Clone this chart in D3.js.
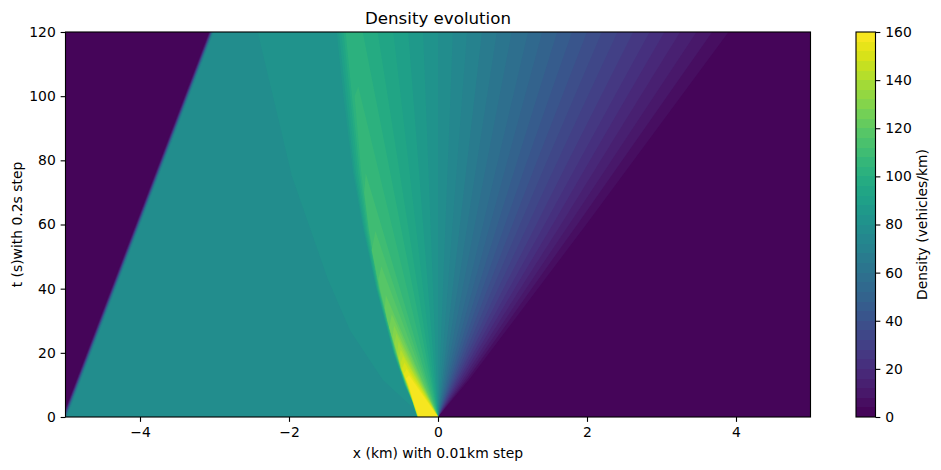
<!DOCTYPE html>
<html><head><meta charset="utf-8">
<script src="https://cdn.jsdelivr.net/npm/d3@7"></script>
<style>
html,body{margin:0;padding:0;background:#fff}
svg{display:block}
text{font-family:"DejaVu Sans",sans-serif;fill:#000}
</style></head><body><svg id="c" width="941" height="470"></svg>
<script>
// ---- data: density in vehicles/km, x in km, t in s ----
const xTicks = [-4, -2, 0, 2, 4];
const tTicks = [0, 20, 40, 60, 80, 100, 120];
const densityTicks = [0, 20, 40, 60, 80, 100, 120, 140, 160];
const densityLevels = [0,4,8,12,16,20,24,28,32,36,40,44,48,52,56,60,64,68,72,76,80,84,88,92,96,100,104,108,112,116,120,124,128,132,136,140,144,148,152,156,160];

// levels 4..76: left edge is the upstream shock front (t = 0 and t = 120)
const frontLevels  = [4,8,12,16,20,24,28,32,36,40,44,48,52,56,60,64,68,72,76];
const frontAtStart = [-5.045,-5.038,-5.033,-5.029,-5.026,-5.023,-5.02,-5.018,-5.015,-5.012,-5.01,-5.008,-5.005,-5.002,-4.999,-4.996,-4.992,-4.987,-4.98];
const frontAtEnd   = [-3.075,-3.068,-3.063,-3.059,-3.056,-3.053,-3.05,-3.048,-3.045,-3.042,-3.04,-3.038,-3.035,-3.032,-3.029,-3.026,-3.022,-3.017,-3.01];

// level 80: faint edge crossing the plateau
const plateauEdge = [[0,-0.28],[3,-0.34],[11.5,-0.74],[27,-1.18],[43,-1.48],[75,-1.96],[120,-2.42]];

// right edges of the fan, levels 4..100, at t = 12, 60, 120
const fanLevels  = [4,8,12,16,20,24,28,32,36,40,44,48,52,56,60,64,68,72,76,80,84,88,92,96,100];
const fanAt12  = [0.43,0.40,0.37,0.34,0.31,0.285,0.26,0.24,0.22,0.20,0.18,0.16,0.14,0.12,0.10,0.08,0.06,0.04,0.02,0,-0.02,-0.04,-0.06,-0.08,-0.10];
const fanAt60  = [1.99,1.87,1.76,1.65,1.54,1.43,1.32,1.21,1.10,1.00,0.90,0.80,0.70,0.605,0.495,0.395,0.295,0.195,0.10,0,-0.10,-0.20,-0.30,-0.405,-0.505];
const fanAt120 = [3.90,3.68,3.47,3.25,3.04,2.84,2.62,2.41,2.20,2.00,1.80,1.60,1.40,1.21,0.99,0.79,0.59,0.39,0.20,0,-0.20,-0.40,-0.60,-0.81,-1.01];

// left edges of the high-density ridge, [t, x] per level; the last point of a capped level is its tip
const ridgeLevels = [84,88,92,96,100,104,108,112,116,120,124,128,132,136,140,144,148,152,156];
const ridgeEdges = [
 [[0,-.28],[5,-.35],[10,-.45],[20,-.60],[40,-.83],[58,-1.00],[76,-1.14],[100,-1.27],[120,-1.36]],
 [[0,-.28],[5,-.35],[10,-.447],[20,-.596],[40,-.824],[58,-.987],[76,-1.12],[100,-1.24],[120,-1.33]],
 [[0,-.279],[5,-.348],[10,-.444],[20,-.591],[40,-.817],[58,-.975],[76,-1.10],[100,-1.21],[120,-1.30]],
 [[0,-.277],[5,-.347],[10,-.441],[20,-.587],[40,-.811],[58,-.96],[76,-1.075],[100,-1.18],[120,-1.27]],
 [[0,-.276],[5,-.346],[10,-.438],[20,-.583],[40,-.804],[58,-.945],[76,-1.05],[100,-1.155],[120,-1.24]],
 [[0,-.275],[5,-.345],[10,-.435],[20,-.578],[40,-.797],[58,-.93],[76,-1.03],[100,-1.12],[103,-1.07]],
 [[0,-.274],[5,-.344],[10,-.432],[20,-.574],[40,-.79],[58,-.925],[70,-.99],[76,-.97]],
 [[0,-.273],[5,-.343],[10,-.429],[20,-.57],[40,-.785],[52,-.89],[58,-.84]],
 [[0,-.272],[5,-.342],[10,-.426],[20,-.565],[40,-.78],[43,-.80],[47,-.76]],
 [[0,-.272],[5,-.342],[10,-.423],[15,-.50],[20,-.56],[30,-.68],[34,-.715],[38,-.70]],
 [[0,-.271],[5,-.341],[10,-.42],[15,-.497],[20,-.556],[28,-.655],[32,-.62]],
 [[0,-.27],[5,-.34],[10,-.417],[15,-.495],[20,-.553],[25,-.61],[28.5,-.59]],
 [[0,-.269],[5,-.339],[10,-.414],[15,-.494],[20,-.55],[23,-.585],[26,-.56]],
 [[0,-.268],[5,-.338],[10,-.411],[15,-.493],[20,-.547],[23.5,-.53]],
 [[0,-.267],[5,-.337],[10,-.408],[15,-.49],[18.5,-.525],[21,-.50]],
 [[0,-.266],[5,-.336],[10,-.41],[15,-.487],[17,-.50],[19,-.47]],
 [[0,-.265],[5,-.335],[10,-.405],[15,-.485],[17,-.45]],
 [[0,-.264],[5,-.334],[10,-.40],[13.5,-.46],[15,-.42]],
 [[0,-.262],[5,-.332],[10,-.395],[12,-.43],[13,-.39]]
];
const capLevel = 100; // levels above this close at their tip

// ---- drawing ----
const svg = d3.select("#c");
const x = d3.scaleLinear().domain([-5, 5]).range([65.5, 810.5]);
const t = d3.scaleLinear().domain([0, 120]).range([417, 32]);
const cbY = d3.scaleLinear().domain([0, 160]).range([417, 32]);
const color = v => d3.interpolateViridis(v / 160);
const bandColor = L => color(L + 2);

svg.append("clipPath").attr("id", "plot").append("rect")
  .attr("x", x(-5)).attr("y", t(120)).attr("width", x(5) - x(-5)).attr("height", t(0) - t(120));
const plot = svg.append("g").attr("clip-path", "url(#plot)");
plot.append("rect").attr("x", x(-5)).attr("y", t(120)).attr("width", x(5) - x(-5)).attr("height", t(0) - t(120)).attr("fill", bandColor(0));

const line = d3.line().x(d => x(d[1])).y(d => t(d[0]));
const rightOf = L => {
  const i = fanLevels.indexOf(L);
  return [[120, fanAt120[i]], [60, fanAt60[i]], [12, fanAt12[i]], [0, 0]];
};
const region = (L, left) => {
  if (L > capLevel) return left.concat([[0, 0]]);
  return left.concat(rightOf(L));
};
function leftEdge(L) {
  const a = frontLevels.indexOf(L);
  if (a >= 0) return [[0, frontAtStart[a]], [120, frontAtEnd[a]]];
  if (L === 80) return plateauEdge;
  return ridgeEdges[ridgeLevels.indexOf(L)];
}
densityLevels.slice(1, -1).forEach(L => {
  plot.append("path").attr("d", line(region(L, leftEdge(L))) + "Z").attr("fill", bandColor(L));
});

// frame and axes
const tick = 4.86, pad = 4.86, sw = 1.11;
function styleAxis(g) {
  g.selectAll("path.domain").remove();
  g.selectAll("line").attr("stroke", "#000").attr("stroke-width", sw);
  g.selectAll("text").attr("font-size", 13.9).attr("font-family", '"DejaVu Sans"').attr("fill", "#000");
}
const fmt = d => String(d).replace("-", "\u2212");
svg.append("g").attr("transform", `translate(0,${t(0)})`)
  .call(d3.axisBottom(x).tickValues(xTicks).tickFormat(fmt).tickSize(tick).tickPadding(pad)).call(styleAxis);
svg.append("g").attr("transform", `translate(${x(-5)},0)`)
  .call(d3.axisLeft(t).tickValues(tTicks).tickFormat(fmt).tickSize(tick).tickPadding(pad)).call(styleAxis);
svg.append("rect").attr("x", x(-5)).attr("y", t(120)).attr("width", x(5) - x(-5)).attr("height", t(0) - t(120))
  .attr("fill", "none").attr("stroke", "#000").attr("stroke-width", sw);

svg.append("text").attr("x", 438).attr("y", 24).attr("text-anchor", "middle").attr("font-size", 16.67).text("Density evolution");
svg.append("text").attr("x", 438).attr("y", 458).attr("text-anchor", "middle").attr("font-size", 13.9).text("x (km) with 0.01km step");
svg.append("text").attr("transform", "translate(22,224.5) rotate(-90)").attr("text-anchor", "middle").attr("font-size", 13.9).text("t (s)with 0.2s step");

// colour bar
const cb = svg.append("g");
cb.selectAll("rect").data(d3.pairs(densityLevels)).join("rect")
  .attr("x", 856).attr("width", 19.5)
  .attr("y", d => cbY(d[1])).attr("height", d => cbY(d[0]) - cbY(d[1]))
  .attr("fill", d => color((d[0] + d[1]) / 2)).attr("shape-rendering", "crispEdges");
svg.append("g").attr("transform", "translate(875.5,0)")
  .call(d3.axisRight(cbY).tickValues(densityTicks).tickSize(tick).tickPadding(pad)).call(styleAxis);
svg.append("rect").attr("x", 856).attr("y", 32).attr("width", 19.5).attr("height", 385)
  .attr("fill", "none").attr("stroke", "#000").attr("stroke-width", sw);
svg.append("text").attr("transform", "translate(927,224.5) rotate(-90)").attr("text-anchor", "middle").attr("font-size", 13.9).text("Density (vehicles/km)");
</script></body></html>
